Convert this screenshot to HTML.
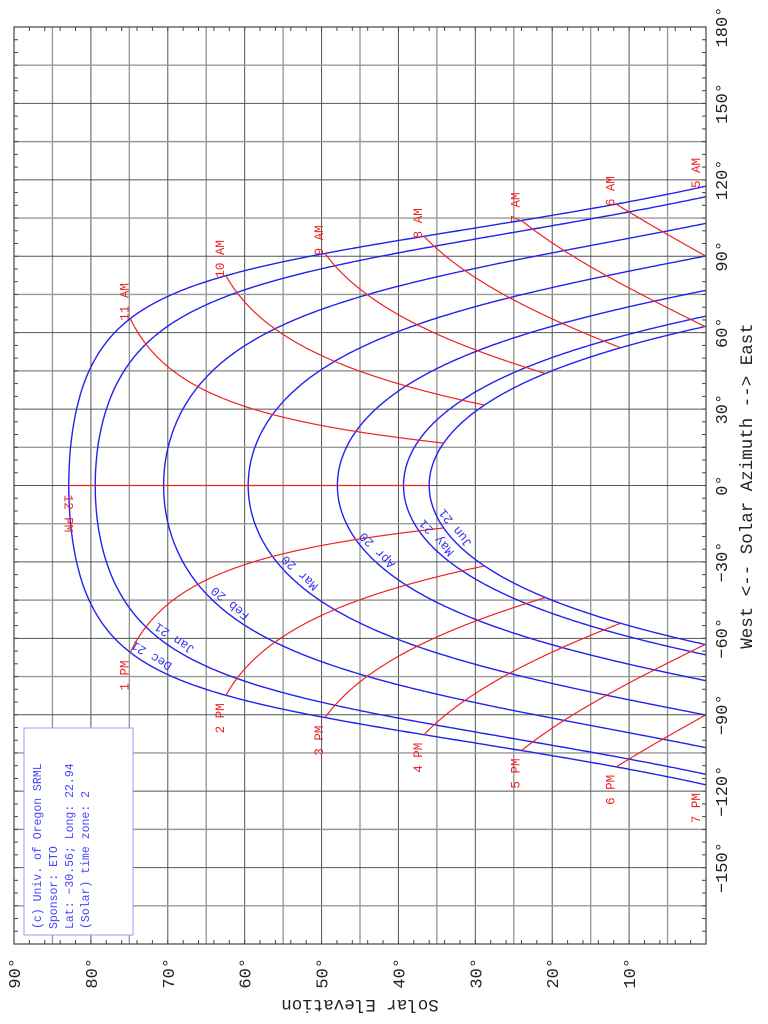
<!DOCTYPE html>
<html><head><meta charset="utf-8"><style>
html,body{margin:0;padding:0;background:#fff;}
svg{display:block;}
text{font-family:"Liberation Mono",monospace;}
</style></head><body>
<svg id="chart" width="768" height="1024" viewBox="0 0 768 1024" xmlns="http://www.w3.org/2000/svg">
<defs><clipPath id="plotclip"><rect x="80" y="14" width="917" height="692"/></clipPath></defs>
<g id="root" transform="translate(0,1024) rotate(-90)">
<g id="grid"></g>
<g id="series" clip-path="url(#plotclip)"></g>
<g id="labels"></g>
<g id="axes"></g>
<g>
<rect x="89" y="24" width="207" height="109" fill="#fff" stroke="#9999ff" stroke-width="1"/>
<text x="95" y="41" font-size="11.5" fill="#4444ff">(c) Univ. of Oregon SRML</text>
<text x="95" y="57" font-size="11.5" fill="#4444ff">Sponsor: ETO</text>
<text x="95" y="73" font-size="11.5" fill="#4444ff">Lat: −30.56; Long: 22.94</text>
<text x="95" y="89" font-size="11.5" fill="#4444ff">(Solar) time zone: 2</text>
</g>
<text x="538" y="752" font-size="17.5" text-anchor="middle" fill="#222">West &lt;-- Solar Azimuth --&gt; East</text>
<text transform="translate(24,360) rotate(-90)" font-size="17.5" text-anchor="middle" fill="#222">Solar Elevation</text>
</g>
</svg>
<script>
const latitude = -30.56;
const dateNames = ["Dec 21","Jan 21","Feb 20","Mar 20","Apr 20","May 21","Jun 21"];
const declinations = [-23.44,-20.0,-11.1,-0.1,11.5,20.1,23.44];
const dateLabelAz = [-70,-63,-49,-37,-28,-23,-19];
const hours = [5,6,7,8,9,10,11,12,13,14,15,16,17,18,19];
const hourNames = ["5 AM","6 AM","7 AM","8 AM","9 AM","10 AM","11 AM","12 PM","1 PM","2 PM","3 PM","4 PM","5 PM","6 PM","7 PM"];
const azTicks = [-150,-120,-90,-60,-30,0,30,60,90,120,150,180];
const elTicks = [10,20,30,40,50,60,70,80,90];

const NS="http://www.w3.org/2000/svg";
const U0=80,U1=997,V0=14,V1=706;
function U(az){return U0+(az+180)*(U1-U0)/360;}
function V(el){return V1-el*(V1-V0)/90;}
const r=Math.PI/180;
function sun(decl,H){
  const lat=latitude*r,d=decl*r,h=H*r;
  const s=Math.sin(lat)*Math.sin(d)+Math.cos(lat)*Math.cos(d)*Math.cos(h);
  const el=Math.asin(s)/r;
  const az=Math.atan2(-Math.sin(h)*Math.cos(d),Math.sin(d)*Math.cos(lat)-Math.cos(d)*Math.sin(lat)*Math.cos(h))/r;
  return {el,az};
}
function mk(tag,attrs,parent){const e=document.createElementNS(NS,tag);for(const k in attrs)e.setAttribute(k,attrs[k]);parent.appendChild(e);return e;}
const grid=document.getElementById('grid'),series=document.getElementById('series'),labels=document.getElementById('labels'),axes=document.getElementById('axes');

for(let el=5;el<90;el+=5){
  const l=mk('line',{x1:U0,x2:U1,y1:V(el),y2:V(el),stroke:el%10?'#999':'#555','stroke-width':el%10?1.4:1},grid);
  
  
}
for(let az=-165;az<180;az+=15){
  const l=mk('line',{x1:U(az),x2:U(az),y1:V0,y2:V1,stroke:az%30?'#999':'#555','stroke-width':az%30?1.4:1},grid);
  
  
}
for(let el=2;el<90;el+=2){
  for(const [a,b] of [[U0,U0+4],[U1,U1-4]]){
    const t=mk('line',{x1:a,x2:b,y1:V(el),y2:V(el),stroke:'#444','stroke-width':1},axes);
    
    
  }
}
for(let az=-175;az<180;az+=5){
  for(const [a,b] of [[V0,V0+4],[V1,V1-4]]){
    const t=mk('line',{x1:U(az),x2:U(az),y1:a,y2:b,stroke:'#444','stroke-width':1},axes);
    
    
  }
}
const frame=mk('rect',{x:U0,y:V0,width:U1-U0,height:V1-V0,fill:'none',stroke:'#444','stroke-width':1.2},axes);


azTicks.forEach(a=>{
  const t=mk('text',{x:U(a),y:V1+21,'font-size':17,'text-anchor':'middle',fill:'#222'},axes);
  t.textContent=(a<0?'−'+(-a):a)+'°';
  
  
});
elTicks.forEach(e=>{
  const t=mk('text',{x:U0-14,y:V(e)+6,'font-size':17,'text-anchor':'end',fill:'#222'},axes);
  t.textContent=e+'°';
  
  
});

declinations.forEach((d,i)=>{
  let pts=[];
  for(let H=-180;H<=180;H+=0.5){const p=sun(d,H);if(p.el>=-1)pts.push(U(p.az).toFixed(1)+','+V(p.el).toFixed(1));}
  const pl=mk('polyline',{points:pts.join(' '),fill:'none',stroke:'#2222ee','stroke-width':1.4},series);
  
  
  let Hb=0,bd=1e9;for(let H=0;H<=180;H+=0.1){const p=sun(d,H);const dd=Math.abs(p.az-dateLabelAz[i]);if(dd<bd){bd=dd;Hb=H;}}
  const best=sun(d,Hb);
  const pa=sun(d,Hb+0.5),pb=sun(d,Hb-0.5);
  const ang=Math.atan2(V(pb.el)-V(pa.el),U(pb.az)-U(pa.az))/r;
  const t=mk('text',{transform:`translate(${U(best.az)},${V(best.el)}) rotate(${ang}) translate(0,13)`,'font-size':12.5,'text-anchor':'middle',fill:'#3333ee'},labels);
  t.textContent=dateNames[i];
  
  
});

hours.forEach((h,i)=>{
  const H=15*(h-12);
  let pts=[];
  const dmin=Math.min(...declinations),dmax=Math.max(...declinations);
  for(let d=dmin;d<=dmax+1e-6;d+=0.2){const p=sun(d,H);if(p.el>=-1)pts.push(U(p.az).toFixed(1)+','+V(p.el).toFixed(1));}
  const pl=mk('polyline',{points:pts.join(' '),fill:'none',stroke:'#ee2222','stroke-width':1.2},series);
  
  
  const p=sun(dmin,H);
  const u=U(p.az),v=Math.min(V(Math.max(p.el,0)),V1-4);
  let t;
  if(h===12){
    t=mk('text',{transform:`translate(${u-28},${v-4}) rotate(180)`,'font-size':12.5,'text-anchor':'middle',fill:'#ee2222'},labels);
  }else if(h<12){
    t=mk('text',{x:u-2,y:v-2,'font-size':12.5,'text-anchor':'start',fill:'#ee2222'},labels);
  }else{
    t=mk('text',{x:u-8,y:v-2,'font-size':12.5,'text-anchor':'end',fill:'#ee2222'},labels);
  }
  t.textContent=hourNames[i];
  
  
});
</script>
</body></html>
